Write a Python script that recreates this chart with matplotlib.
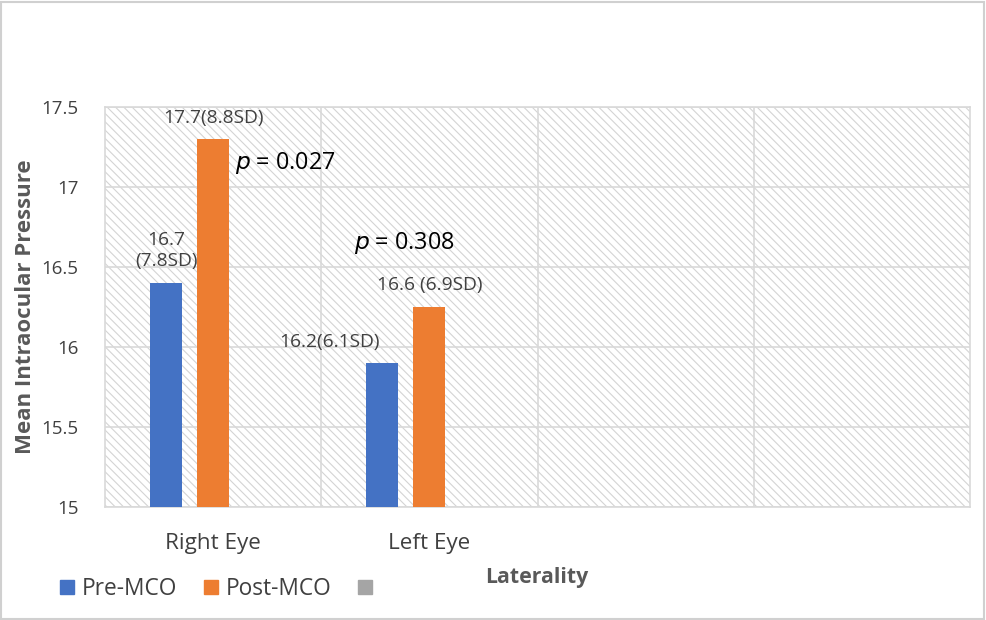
import numpy as np
import matplotlib.pyplot as plt
from matplotlib.patches import Rectangle

plt.rcParams.update({
    "font.family": ["Open Sans", "DejaVu Sans"],
    "hatch.color": "#d4d4d4",
    "hatch.linewidth": 0.8,
})

# data
categories = ["Right Eye", "Left Eye", "", ""]
pre_mco = [16.4, 15.9, np.nan, np.nan]
post_mco = [17.3, 16.25, np.nan, np.nan]
third = [np.nan, np.nan, np.nan, np.nan]
series_names = ["Pre-MCO", "Post-MCO", ""]
y_ticks = [15, 15.5, 16, 16.5, 17, 17.5]
y_tick_labels = ["15", "15.5", "16", "16.5", "17", "17.5"]

bar_labels = ["16.7\n(7.8SD)", "17.7(8.8SD)", "16.2(6.1SD)", "16.6 (6.9SD)"]
p_labels = ["0.027", "0.308"]

BLUE = "#4472C4"
ORANGE = "#ED7D31"
GRAY = "#A5A5A5"
GRID = "#d9d9d9"
TXT = "#595959"
DARK = "#404040"


def main():
    fig = plt.figure(figsize=(9.86, 6.2), dpi=100)
    ax = fig.add_axes([105 / 986, 113 / 620, 865 / 986, 400 / 620])

    # hatched plot area background
    ax.add_patch(Rectangle((0, 0), 1, 1, transform=ax.transAxes, facecolor="white",
                           edgecolor="#d4d4d4", hatch="\\\\\\\\", linewidth=0, zorder=0))

    x = np.arange(len(categories))
    w = 0.148
    off = 0.2176
    ax.bar(x - off, pre_mco, width=w, color=BLUE, zorder=3)
    ax.bar(x, post_mco, width=w, color=ORANGE, zorder=3)
    ax.bar(x + off, third, width=w, color=GRAY, zorder=3)

    ax.set_xlim(-0.5, 3.5)
    ax.set_ylim(15, 17.5)
    ax.set_yticks(y_ticks)
    ax.set_yticklabels(y_tick_labels)
    ax.set_xticks(x)
    ax.set_xticklabels(categories)
    ax.set_xticks(np.arange(0.5, 3.5, 1), minor=True)
    ax.tick_params(axis="both", which="both", length=0)
    ax.tick_params(axis="y", labelsize=13.5, pad=19)
    ax.tick_params(axis="x", labelsize=16.2, pad=19)
    for lab in ax.get_yticklabels() + ax.get_xticklabels():
        lab.set_color(DARK)

    ax.grid(axis="y", which="major", color=GRID, linewidth=1.2, zorder=1)
    ax.grid(axis="x", which="minor", color=GRID, linewidth=1.2, zorder=1)
    for s in ax.spines.values():
        s.set_color(GRID)
        s.set_linewidth(1.2)

    # data labels
    lab_fs = 13.8
    ax.text(0 - off, 16.4 + 0.08, bar_labels[0], ha="center", va="bottom", fontsize=lab_fs,
            color=DARK, linespacing=1.2)
    ax.text(0, 17.43, bar_labels[1], ha="center", va="center", fontsize=lab_fs, color=DARK)
    ax.text(0.54, 16.03, bar_labels[2], ha="center", va="center", fontsize=lab_fs, color=DARK)
    ax.text(1, 16.39, bar_labels[3], ha="center", va="center", fontsize=lab_fs, color=DARK)

    ax.text(0.102, 17.15, r"$\it{p}$ = " + p_labels[0], ha="left", va="center", fontsize=16.8,
            color="black")
    ax.text(0.884, 16.65, r"$\it{p}$ = " + p_labels[1], ha="center", va="center", fontsize=16.8,
            color="black")

    ax.set_ylabel("Mean Intraocular Pressure", fontsize=16, fontweight="bold", color=TXT)
    ax.yaxis.set_label_coords(-69 / 865, 0.5)
    fig.text(537 / 986, 1 - 578 / 620, "Laterality", ha="center", va="center", fontsize=15.3,
             fontweight="bold", color=TXT)

    handles = [Rectangle((0, 0), 1, 1, color=c) for c in (BLUE, ORANGE, GRAY)]
    fig.legend(handles, series_names, loc="center left", bbox_to_anchor=(60 / 986, 1 - 589 / 620),
               ncol=3, frameon=False, fontsize=16.4, handlelength=0.62, handleheight=0.62,
               handletextpad=0.35, columnspacing=1.15, borderpad=0, borderaxespad=0,
               labelcolor=DARK)

    # outer chart border
    fig.add_artist(Rectangle((0.0015, 0.002), 0.996, 0.995, transform=fig.transFigure,
                             fill=False, edgecolor="#d0d0d0", linewidth=1.5))

    fig.savefig("out.png", dpi=100)


if __name__ == "__main__":
    main()
